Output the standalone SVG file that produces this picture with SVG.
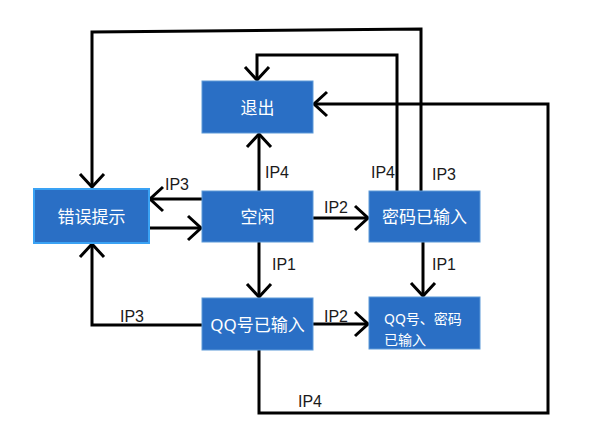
<svg xmlns="http://www.w3.org/2000/svg" width="591" height="442" viewBox="0 0 591 442">
<style>
.box{fill:#2a6fc5;stroke:#5d9ad8;stroke-width:1}
.err{fill:#2a6fc5;stroke:#3aa2f4;stroke-width:2}
.bt{fill:#ffffff;font-family:"Noto Sans","Noto Sans CJK SC",sans-serif;font-size:17px;text-anchor:middle;dominant-baseline:central}
.bt2{fill:#ffffff;font-family:"Noto Sans","Noto Sans CJK SC",sans-serif;font-size:14px;dominant-baseline:central}
.lbl{fill:#1a1a1a;font-family:"Liberation Sans",Arial,sans-serif;font-size:16px}
.c{fill:none;stroke:#000;stroke-width:3;stroke-linejoin:miter}
</style>
<defs>
<marker id="a" viewBox="-16 -14 18 28" refX="0" refY="0" markerWidth="18" markerHeight="28" markerUnits="userSpaceOnUse" orient="auto">
<path d="M-13,-12 L0,0 L-13,12" fill="none" stroke="#000" stroke-width="3"/>
</marker>
</defs>
<rect width="591" height="442" fill="#ffffff"/>
<g id="connectors">
<path class="c" marker-end="url(#a)" d="M259,191 V134"/>
<path class="c" marker-end="url(#a)" d="M202,199 H150"/>
<path class="c" marker-end="url(#a)" d="M149,228 H201"/>
<path class="c" marker-end="url(#a)" d="M313,218 H368"/>
<path class="c" marker-end="url(#a)" d="M259,242 V297"/>
<path class="c" marker-end="url(#a)" d="M423,242 V296"/>
<path class="c" marker-end="url(#a)" d="M397,191 V55 H257 V80"/>
<path class="c" marker-end="url(#a)" d="M421,191 V29 L92,32 V187"/>
<path class="c" marker-end="url(#a)" d="M202,325 H92 V244"/>
<path class="c" marker-end="url(#a)" d="M313,324 H368"/>
<path class="c" marker-end="url(#a)" d="M259,350 V413 H548 V104 H314"/>
</g>
<g id="labels">
<text class="lbl" x="265" y="178">IP4</text>
<text class="lbl" x="165" y="190">IP3</text>
<text class="lbl" x="324" y="213">IP2</text>
<text class="lbl" x="371" y="178">IP4</text>
<text class="lbl" x="432" y="180">IP3</text>
<text class="lbl" x="272" y="270">IP1</text>
<text class="lbl" x="432" y="270">IP1</text>
<text class="lbl" x="120" y="322">IP3</text>
<text class="lbl" x="324" y="322">IP2</text>
<text class="lbl" x="298" y="407">IP4</text>
</g>
<g id="exit">
<rect class="box" x="202" y="81" width="111" height="52"/>
<text class="bt" x="257.5" y="107">退出</text>
</g>
<g id="idle">
<rect class="box" x="202" y="191" width="111" height="51"/>
<text class="bt" x="257.5" y="216.5">空闲</text>
</g>
<g id="error">
<rect class="err" x="34" y="189" width="115" height="54"/>
<text class="bt" x="91.5" y="216">错误提示</text>
</g>
<g id="pwd">
<rect class="box" x="369" y="191" width="111" height="51"/>
<text class="bt" x="424.5" y="216.5">密码已输入</text>
</g>
<g id="qq">
<rect class="box" x="202" y="298" width="111" height="52"/>
<text class="bt" x="257.5" y="324">QQ号已输入</text>
</g>
<g id="both">
<rect class="box" x="369" y="297" width="111" height="52"/>
<text class="bt2" x="384" y="318">QQ号、密码</text>
<text class="bt2" x="384" y="339">已输入</text>
</g>
</svg>
